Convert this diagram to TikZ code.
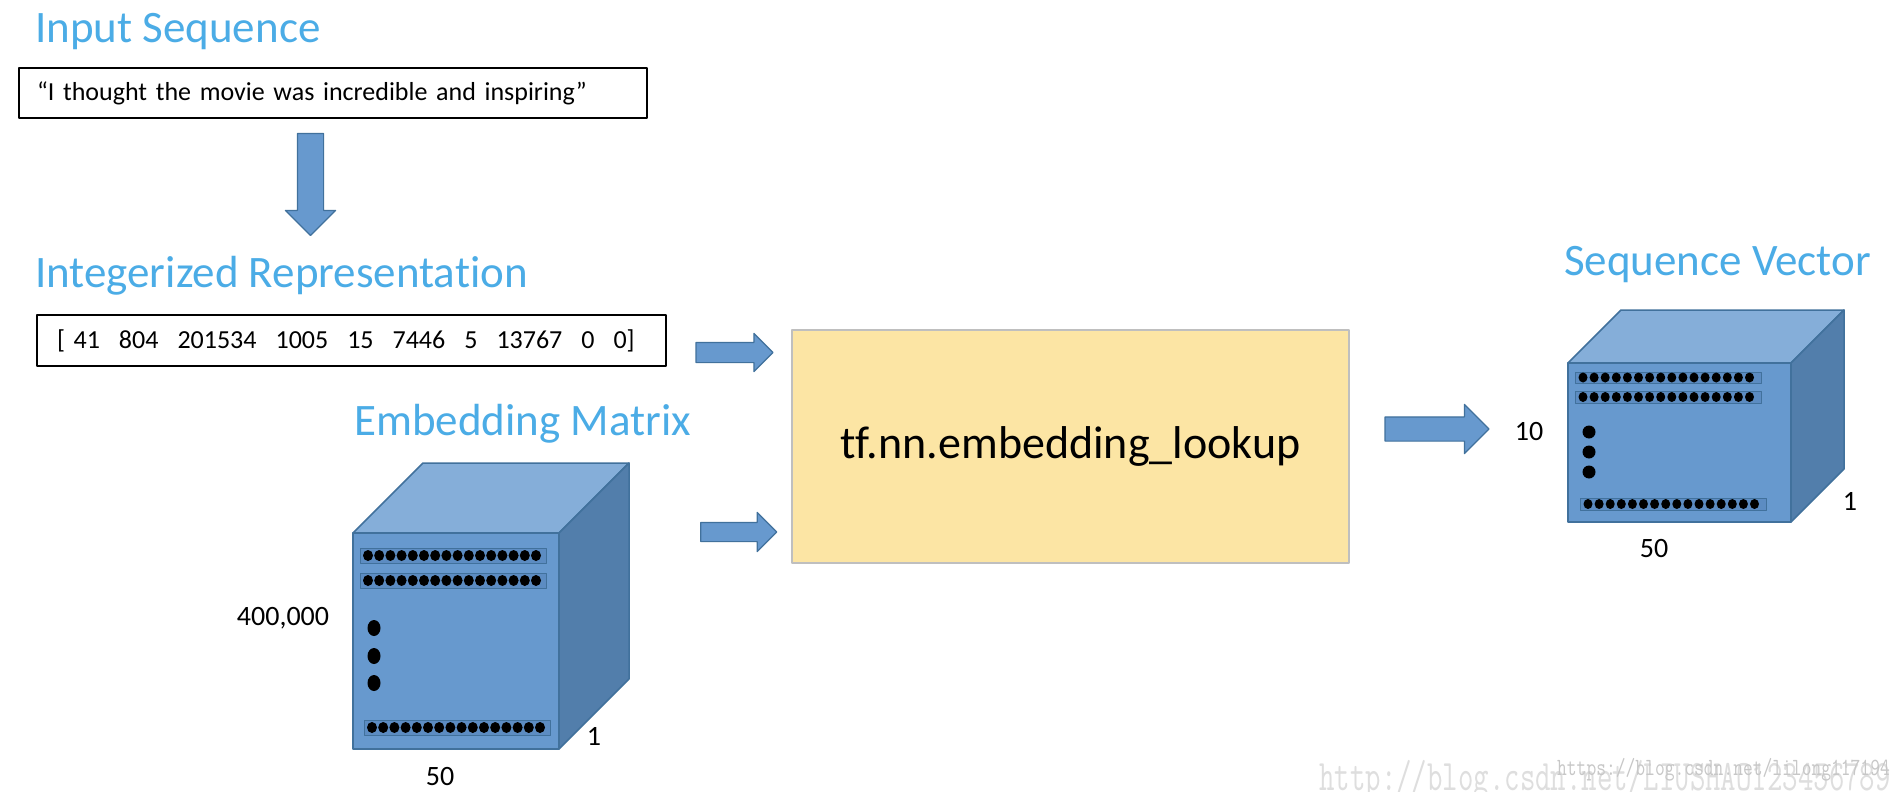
\documentclass[tikz,border=0pt]{standalone}
\usepackage{fontspec}
\usepackage{graphicx}
\setmainfont{Carlito}[Ligatures=NoCommon]
\usetikzlibrary{shapes.arrows}

\definecolor{titleblue}{RGB}{75,172,230}
\definecolor{cubefront}{RGB}{103,153,206}
\definecolor{cubetop}{RGB}{133,174,217}
\definecolor{cubeside}{RGB}{82,126,171}
\definecolor{cubeline}{RGB}{65,113,156}
\definecolor{stripfill}{RGB}{92,140,194}
\definecolor{lookupfill}{RGB}{252,229,164}
\definecolor{lookupline}{RGB}{191,191,191}
\definecolor{wmgray}{RGB}{222,222,222}

\begin{document}
\begin{tikzpicture}[x=1pt,y=-1pt,>=stealth,font=\fontsize{26}{30}\selectfont,line join=round,line cap=round,
	title/.style={anchor=base west,inner sep=0pt,text=titleblue,font=\fontsize{45}{54}\selectfont},
	textbox/.style={draw=black,line width=1.5pt,align=left,inner ysep=0pt},
	blockarrow/.style={single arrow,draw=cubeline,fill=cubefront,line width=1.2pt,inner xsep=0pt,single arrow head extend=#1},
	dimlabel/.style={inner sep=0pt,font=\fontsize{28}{32}\selectfont},
	face/.style={draw=cubeline,line width=1.5pt},
	strip/.style={draw=cubeline,fill=stripfill,line width=1pt}]
	\fill[white] (0,0) rectangle (1900,792);
	\useasboundingbox (0,0) rectangle (1900,792);
	% Tieu de
	\node[title] (tinput) at (35,43) {Input Sequence};
	\node[title] (tint) at (35,287) {Integerized Representation};
	\node[title] (temb) at (354,435) {Embedding Matrix};
	\node[title] (tseq) at (1564,275) {Sequence Vector};
	% Hop chu
	\node[textbox,text width=592pt,inner xsep=18pt,minimum height=50pt] (sent) at (333,93) {“I thought the movie was incredible and inspiring”};
	\def\gap{\hspace{0.73em}}
	\node[textbox,text width=589pt,inner xsep=20pt,minimum height=51pt] (ints) at (351.5,340.5) {[ 41\gap 804\gap 201534\gap 1005\gap 15\gap 7446\gap 5\gap 13767\gap 0\gap 0]};
	\node[draw=lookupline,fill=lookupfill,line width=1.5pt,minimum width=557pt,minimum height=233pt,font=\fontsize{46}{54}\selectfont] (lookup) at (1070.5,446.5) {tf.nn.embedding\_lookup};
	% Mui ten
	\node[blockarrow=12pt,inner xsep=12.5pt,inner ysep=0pt,minimum height=102pt,shape border rotate=270] (adown) at (310.5,178) {};
	\node[blockarrow=9pt,inner ysep=9.5pt,minimum height=77pt] (aint) at (729.5,352.5) {};
	\node[blockarrow=10pt,inner ysep=9pt,minimum height=76pt] (aemb) at (734,532) {};
	\node[blockarrow=12.5pt,inner ysep=11.5pt,minimum height=104pt] (aout) at (1431,429) {};
	% Khoi Embedding Matrix
	\def\ox{353} \def\oy{533} \def\w{206} \def\h{216} \def\dd{70}
	\draw[face,fill=cubetop] (\ox,\oy)--(\ox+\dd,\oy-\dd)--(\ox+\w+\dd,\oy-\dd)--(\ox+\w,\oy)--cycle;
	\draw[face,fill=cubeside] (\ox+\w,\oy)--(\ox+\w+\dd,\oy-\dd)--(\ox+\w+\dd,\oy+\h-\dd)--(\ox+\w,\oy+\h)--cycle;
	\draw[face,fill=cubefront] (\ox,\oy) rectangle (\ox+\w,\oy+\h);
	\draw[strip] (360,548) rectangle (546,563);
	\draw[strip] (360,573) rectangle (546,588);
	\draw[strip] (364,720) rectangle (550,735);
	\foreach \yy in {555.5,580.5} \foreach \i in {0,...,15} \fill (368+\i*11.2,\yy) ellipse (5pt and 5.5pt);
	\foreach \i in {0,...,15} \fill (372+\i*11.2,727.5) ellipse (5pt and 5.5pt);
	\foreach \yy in {628,656,683} \fill (374,\yy) ellipse (6.5pt and 8pt);
	\node[dimlabel] (rowsemb) at (283,618) {400,000};
	\node[dimlabel] (depemb) at (594,736) {1};
	\node[dimlabel] (colsemb) at (440,777) {50};
	% Khoi Sequence Vector
	\def\ox{1568} \def\oy{363} \def\w{223} \def\h{159} \def\dd{53}
	\draw[face,fill=cubetop] (\ox,\oy)--(\ox+\dd,\oy-\dd)--(\ox+\w+\dd,\oy-\dd)--(\ox+\w,\oy)--cycle;
	\draw[face,fill=cubeside] (\ox+\w,\oy)--(\ox+\w+\dd,\oy-\dd)--(\ox+\w+\dd,\oy+\h-\dd)--(\ox+\w,\oy+\h)--cycle;
	\draw[face,fill=cubefront] (\ox,\oy) rectangle (\ox+\w,\oy+\h);
	\draw[strip] (1575,372) rectangle (1761,383);
	\draw[strip] (1575,391) rectangle (1761,403);
	\draw[strip] (1580,498) rectangle (1766,510);
	\foreach \yy in {377.5,397} \foreach \i in {0,...,15} \fill (1583+\i*11.1,\yy) ellipse (4.5pt and 5pt);
	\foreach \i in {0,...,15} \fill (1588+\i*11.1,504) ellipse (4.5pt and 5pt);
	\foreach \yy in {432,452,472} \fill (1589,\yy) circle (6.5pt);
	\node[dimlabel] (rowsseq) at (1529,432) {10};
	\node[dimlabel] (depseq) at (1850,501) {1};
	\node[dimlabel] (colsseq) at (1654,549) {50};
	% Chu chim
	\node[anchor=base east,inner sep=0pt,text=wmgray,font=\ttfamily\fontsize{30}{30}\selectfont] (wmbig) at (1891,790) {\scalebox{1}[1.45]{http://blog.csdn.net/LIUSHAO123456789}};
	\node[anchor=base east,inner sep=0pt,text=black!22,font=\ttfamily\fontsize{19}{19}\selectfont] (wmsmall) at (1890,775) {\scalebox{1}[1.3]{https://blog.csdn.net/lilong117194}};
\end{tikzpicture}
\end{document}
